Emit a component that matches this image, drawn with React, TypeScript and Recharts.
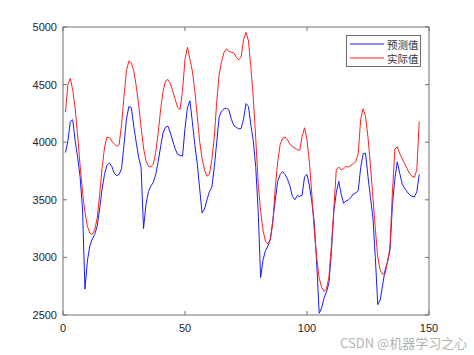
import React from "react";
import { LineChart, Line, XAxis, YAxis, ReferenceArea } from "recharts";

const xTicks = [0, 50, 100, 150];
const yTicks = [2500, 3000, 3500, 4000, 4500, 5000];
const seriesNames = ["预测值", "实际值"];
const seriesColors = ["#1a1aff", "#ff2020"];

const predicted = [
  3910, 4010, 4180, 4195, 4010, 3870, 3700, 3420, 2725, 2970,
  3100, 3160, 3200, 3270, 3420, 3590, 3720, 3800, 3820, 3790,
  3730, 3710, 3720, 3770, 3980, 4200, 4310, 4300, 4140, 4000,
  3870, 3780, 3250, 3460, 3570, 3620, 3650, 3720, 3830, 3960,
  4080, 4130, 4140, 4080, 4010, 3940, 3895, 3885, 3880, 4120,
  4300, 4360, 4180, 3980, 3820, 3600, 3385, 3420, 3500, 3570,
  3610, 3780, 4000, 4220, 4270, 4290, 4295, 4280, 4200, 4145,
  4130, 4115, 4120, 4200, 4335, 4310, 4150, 4010, 3780, 3400,
  2825, 2980, 3060, 3100, 3160, 3320, 3500, 3660, 3720, 3745,
  3720, 3680, 3620, 3530, 3500, 3535, 3530, 3540, 3700, 3720,
  3620, 3480, 3300, 2940, 2515, 2560, 2650, 2700, 2780, 3050,
  3400, 3560, 3660, 3550, 3470, 3490, 3500, 3520, 3550, 3560,
  3580, 3780, 3900, 3905, 3700, 3520, 3350, 3000, 2590, 2630,
  2760, 2890, 2960, 3060, 3450, 3680, 3830, 3730, 3640, 3600,
  3570, 3545, 3530, 3525, 3570, 3720,
];

const actual = [
  4260, 4500, 4555, 4450, 4290, 4060, 3800, 3570, 3390, 3270,
  3210, 3200, 3240, 3340, 3540, 3770, 3950, 4045, 4040, 4010,
  3985, 3965, 3980, 4150, 4400, 4620, 4705, 4690, 4620, 4490,
  4330, 4130, 3950, 3840, 3790, 3785, 3810, 3910, 4080, 4280,
  4440, 4530, 4545, 4510, 4440, 4370, 4300, 4285, 4450, 4720,
  4825, 4720, 4620, 4450, 4230, 4010, 3860, 3760, 3705, 3720,
  3850, 4040, 4350, 4590, 4700, 4780, 4810, 4790, 4780, 4775,
  4740, 4715, 4740, 4890, 4955, 4880, 4650, 4380, 4030, 3640,
  3400, 3230, 3140, 3115, 3160, 3300, 3610, 3830, 3980, 4035,
  4045, 4020, 3985, 3960, 3950, 3935, 3930, 4050, 4125, 4020,
  3820, 3540, 3230, 2990, 2820, 2740, 2705, 2730, 2830, 3100,
  3420, 3760, 3785, 3760, 3770, 3790, 3785, 3800, 3815, 3830,
  3900, 4200, 4290, 4220, 4040, 3800, 3520, 3250, 3000, 2890,
  2855, 2860, 2960, 3090, 3560, 3940, 3960, 3900, 3860, 3815,
  3770, 3730, 3705, 3695, 3760, 4180,
];

const data = predicted.map((p, i) => ({ x: i + 1, predicted: p, actual: actual[i] }));

const L = 63, R = 429, T = 27, B = 315;
const axisColor = "#262626";
const boxColor = "#707070";
const font = "'Liberation Sans', Arial, sans-serif";

const YTick = (props: any) => {
  const { y, payload } = props;
  return (
    <g>
      <text x={L - 6} y={y} textAnchor="end" dominantBaseline="central" fontSize={11} fontFamily={font} fill={axisColor}>
        {payload.value}
      </text>
      <line x1={L} x2={L + 4} y1={y} y2={y} stroke={boxColor} />
      <line x1={R - 4} x2={R} y1={y} y2={y} stroke={boxColor} />
    </g>
  );
};

const XTick = (props: any) => {
  const { x, payload } = props;
  return (
    <g>
      <text x={x} y={B + 13} textAnchor="middle" dominantBaseline="central" fontSize={11} fontFamily={font} fill={axisColor}>
        {payload.value}
      </text>
      <line x1={x} x2={x} y1={B} y2={B - 4} stroke={boxColor} />
      <line x1={x} x2={x} y1={T} y2={T + 4} stroke={boxColor} />
    </g>
  );
};

export default function App() {
  return (
    <div style={{ position: "absolute", left: 0, top: 0, width: 474, height: 355, background: "#fff" }}>
      <LineChart width={474} height={355} data={data} margin={{ top: 27, right: 45, bottom: 10, left: 3 }}>
        <XAxis dataKey="x" type="number" domain={[0, 150]} ticks={xTicks} axisLine={false} tickLine={false} tick={<XTick />} height={30} interval={0} />
        <YAxis type="number" domain={[2500, 5000]} ticks={yTicks} axisLine={false} tickLine={false} tick={<YTick />} width={60} interval={0} />
        <ReferenceArea x1={0} x2={150} y1={2500} y2={5000} fill="none" stroke={boxColor} strokeWidth={1} ifOverflow="visible" />
        <Line type="linear" dataKey="predicted" name={seriesNames[0]} stroke={seriesColors[0]} strokeWidth={1} dot={false} isAnimationActive={false} />
        <Line type="linear" dataKey="actual" name={seriesNames[1]} stroke={seriesColors[1]} strokeWidth={1} dot={false} isAnimationActive={false} />
      </LineChart>
      <svg style={{ position: "absolute", left: 346, top: 35 }} width={76} height={33}>
        <rect x={0.5} y={0.5} width={74} height={31} fill="#fff" stroke={boxColor} />
        {seriesNames.map((n, i) => (
          <g key={n}>
            <line x1={4} x2={38} y1={9 + i * 14} y2={9 + i * 14} stroke={seriesColors[i]} strokeWidth={1} />
            <text x={41} y={9 + i * 14} dominantBaseline="central" fontSize={10.5} fontFamily="'Noto Sans CJK SC', sans-serif" fill="#333">
              {n}
            </text>
          </g>
        ))}
      </svg>
      <div style={{ position: "absolute", left: 340, top: 334, fontSize: 13, fontFamily: "'Noto Sans CJK SC', 'Liberation Sans', sans-serif", color: "#b4b4b4", whiteSpace: "nowrap", lineHeight: "18px" }}>
        CSDN @机器学习之心
      </div>
    </div>
  );
}
